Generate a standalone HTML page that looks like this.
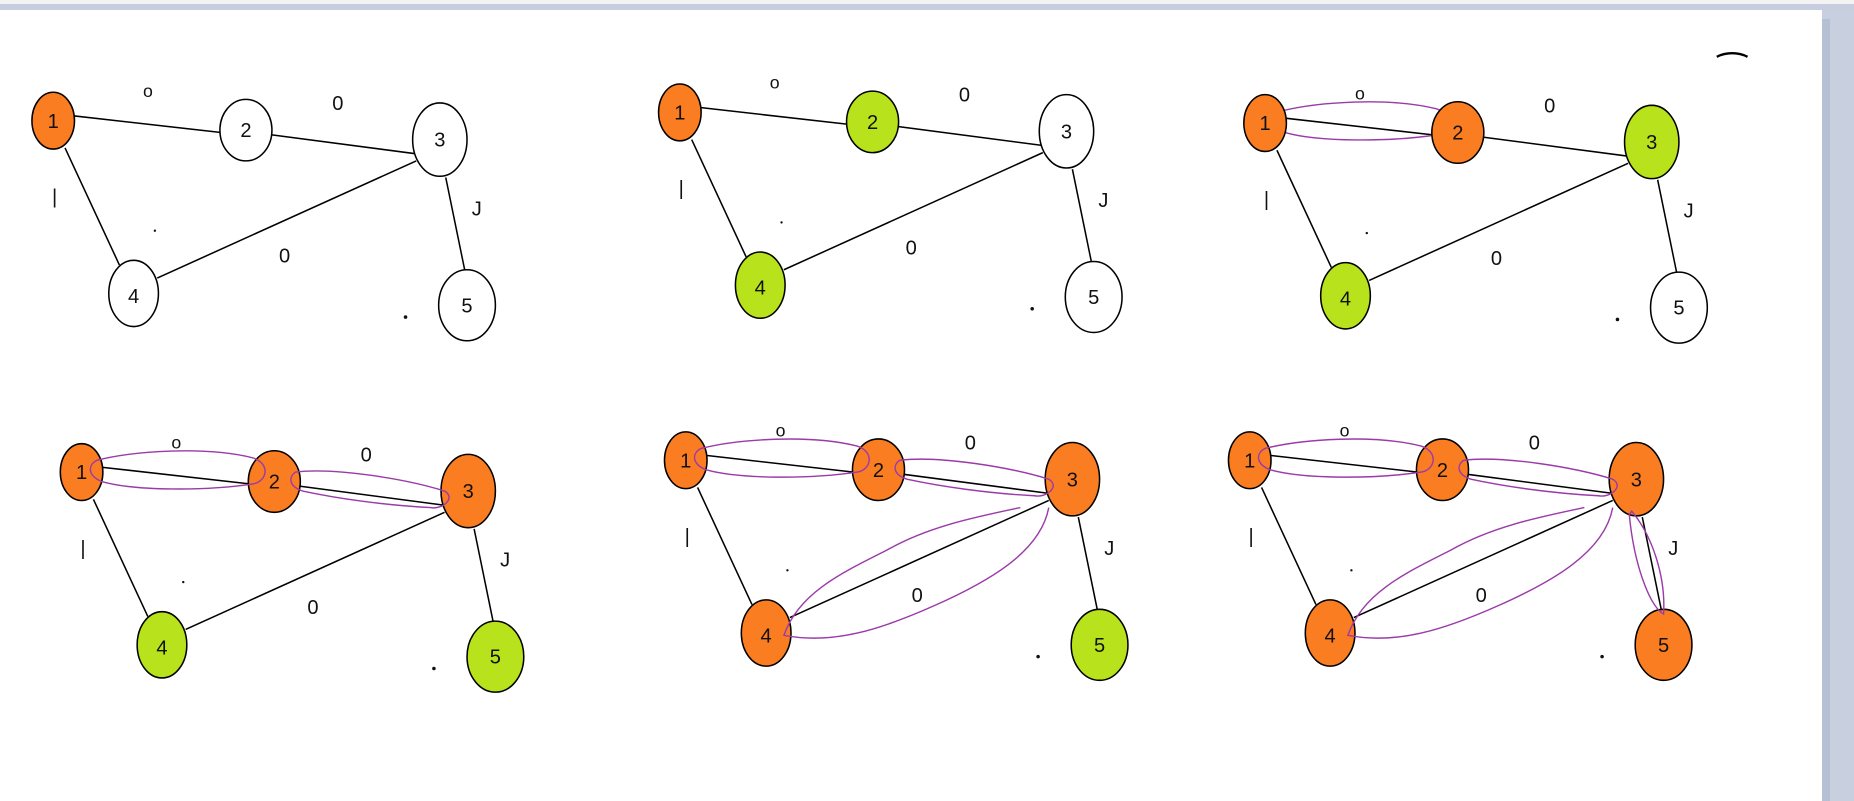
<!DOCTYPE html>
<html><head><style>
html,body{margin:0;padding:0;width:1854px;height:801px;overflow:hidden;background:#fff;}
svg{position:absolute;left:0;top:0;}
</style></head><body>
<div style="position:absolute;left:0;top:0;width:1854px;height:4px;background:#f3f3f3"></div>
<div style="position:absolute;left:0;top:4px;width:1854px;height:6px;background:#c6cedf"></div>
<div style="position:absolute;left:1822px;top:10px;width:32px;height:791px;background:#c8d0e0"></div>
<div style="position:absolute;left:1822px;top:19px;width:8px;height:782px;background:#b6c0d4"></div>
<svg width="1822" height="801" viewBox="0 0 1541 677" preserveAspectRatio="none" xmlns="http://www.w3.org/2000/svg" style="top:0">
<defs>
<g id="edges" stroke="#000" stroke-width="1.3" fill="none">
<path d="M63,98 L187,112"/>
<path d="M230,114 L352,130"/>
<path d="M55,125 L101,224"/>
<path d="M352,136 L133,235"/>
<path d="M377,150 L393,228"/>
</g>
<g id="labels" font-family="Liberation Sans, sans-serif" font-size="17" fill="#111" stroke="none">
<text x="121" y="82" font-size="15">o</text>
<text x="281" y="93">0</text>
<text x="44" y="172">|</text>
<text x="236" y="222">0</text>
<text x="399" y="182">J</text>
<circle cx="131" cy="195" r="1"/>
<circle cx="343" cy="268" r="1.5"/>
</g>
<g id="nums" font-family="Liberation Sans, sans-serif" font-size="17" fill="#111" text-anchor="middle">
<text x="45" y="108">1</text><text x="208" y="116">2</text><text x="372" y="124">3</text><text x="113" y="256">4</text><text x="395" y="264">5</text>
</g>
<g id="L12"><path d="M58,92 C90,84 150,80 190,90 C205,95 202,110 190,112 C150,118 90,118 62,110 C50,105 50,96 58,92 Z"/></g>
<g id="L23"><path d="M226,102 C260,98 320,108 352,118 C362,124 350,134 340,132 C300,130 260,124 232,118 C220,114 220,106 226,102 Z"/></g>
<g id="L34"><path d="M328,142 C290,150 250,158 215,178 C175,198 140,215 128,250 C170,258 210,245 255,225 C300,205 345,180 352,142"/></g>
<g id="L35"><path d="M368,145 C385,165 397,200 395,232 C383,225 370,190 366,148 Z"/></g>
</defs>
<g stroke="#000" stroke-width="1.3">
<!-- Panel 1 -->
<g transform="translate(0,0)">
<use href="#edges"/>
<ellipse cx="45" cy="102" rx="18" ry="24" fill="#fb7d22"/>
<ellipse cx="208" cy="110" rx="22" ry="26" fill="#fff"/>
<ellipse cx="372" cy="118" rx="23" ry="31" fill="#fff"/>
<ellipse cx="113" cy="248" rx="21" ry="28" fill="#fff"/>
<ellipse cx="395" cy="258" rx="24" ry="30" fill="#fff"/>
<use href="#labels"/><use href="#nums" stroke="none"/>
</g>
<!-- Panel 2 -->
<g transform="translate(530,-7)">
<use href="#edges"/>
<ellipse cx="45" cy="102" rx="18" ry="24" fill="#fb7d22"/>
<ellipse cx="208" cy="110" rx="22" ry="26" fill="#b8e21b"/>
<ellipse cx="372" cy="118" rx="23" ry="31" fill="#fff"/>
<ellipse cx="113" cy="248" rx="21" ry="28" fill="#b8e21b"/>
<ellipse cx="395" cy="258" rx="24" ry="30" fill="#fff"/>
<use href="#labels"/><use href="#nums" stroke="none"/>
</g>
<!-- Panel 3 -->
<g transform="translate(1025,2)">
<use href="#edges"/>
<g stroke="#9b3aa9" fill="none" stroke-width="1.2"><use href="#L12"/></g>
<ellipse cx="45" cy="102" rx="18" ry="24" fill="#fb7d22"/>
<ellipse cx="208" cy="110" rx="22" ry="26" fill="#fb7d22"/>
<ellipse cx="372" cy="118" rx="23" ry="31" fill="#b8e21b"/>
<ellipse cx="113" cy="248" rx="21" ry="28" fill="#b8e21b"/>
<ellipse cx="395" cy="258" rx="24" ry="30" fill="#fff"/>
<use href="#labels"/><use href="#nums" stroke="none"/>
</g>
<!-- Panel 4 -->
<g transform="translate(24,297)">
<use href="#edges"/>
<ellipse cx="45" cy="102" rx="18" ry="24" fill="#fb7d22"/>
<ellipse cx="208" cy="110" rx="22" ry="26" fill="#fb7d22"/>
<ellipse cx="372" cy="118" rx="23" ry="31" fill="#fb7d22"/>
<ellipse cx="113" cy="248" rx="21" ry="28" fill="#b8e21b"/>
<ellipse cx="395" cy="258" rx="24" ry="30" fill="#b8e21b"/>
<g stroke="#9b3aa9" fill="none" stroke-width="1.2"><use href="#L12"/><use href="#L23"/></g>
<use href="#labels"/><use href="#nums" stroke="none"/>
</g>
<!-- Panel 5 -->
<g transform="translate(535,287)">
<use href="#edges"/>
<ellipse cx="45" cy="102" rx="18" ry="24" fill="#fb7d22"/>
<ellipse cx="208" cy="110" rx="22" ry="26" fill="#fb7d22"/>
<ellipse cx="372" cy="118" rx="23" ry="31" fill="#fb7d22"/>
<ellipse cx="113" cy="248" rx="21" ry="28" fill="#fb7d22"/>
<ellipse cx="395" cy="258" rx="24" ry="30" fill="#b8e21b"/>
<g stroke="#9b3aa9" fill="none" stroke-width="1.2"><use href="#L12"/><use href="#L23"/><use href="#L34"/></g>
<use href="#labels"/><use href="#nums" stroke="none"/>
</g>
<!-- Panel 6 -->
<g transform="translate(1012,287)">
<use href="#edges"/>
<ellipse cx="45" cy="102" rx="18" ry="24" fill="#fb7d22"/>
<ellipse cx="208" cy="110" rx="22" ry="26" fill="#fb7d22"/>
<ellipse cx="372" cy="118" rx="23" ry="31" fill="#fb7d22"/>
<ellipse cx="113" cy="248" rx="21" ry="28" fill="#fb7d22"/>
<ellipse cx="395" cy="258" rx="24" ry="30" fill="#fb7d22"/>
<g stroke="#9b3aa9" fill="none" stroke-width="1.2"><use href="#L12"/><use href="#L23"/><use href="#L34"/><use href="#L35"/></g>
<use href="#labels"/><use href="#nums" stroke="none"/>
</g>
<path d="M1452,48 C1460,44 1470,44 1478,48" stroke="#000" stroke-width="2" fill="none"/>
</g>
</svg>
</body></html>
